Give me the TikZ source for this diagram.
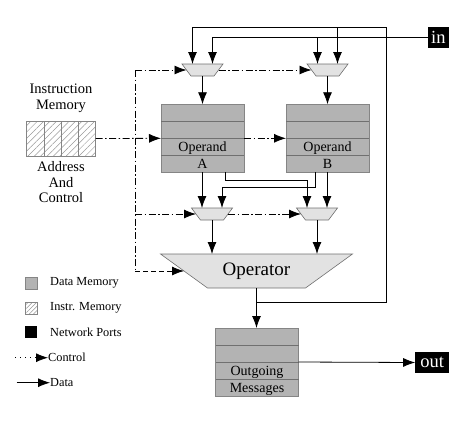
\documentclass[tikz,border=0pt]{standalone}
\usepackage{fontspec}
\setmainfont{Liberation Serif}
\usetikzlibrary{arrows.meta,patterns.meta,calc,backgrounds}
\definecolor{memgray}{HTML}{B3B3B3}
\definecolor{memborder}{HTML}{858585}
\definecolor{rowline}{HTML}{707070}
\definecolor{muxfill}{HTML}{E2E2E2}
\definecolor{muxborder}{HTML}{707070}
\definecolor{hatchc}{HTML}{999999}
\begin{document}
\begin{tikzpicture}[x=1pt,y=-1pt,
  tip/.style={-{Latex[length=12pt,width=9pt]}},
  data/.style={line width=0.8pt,tip},
  ctrl/.style={line width=0.8pt,dash pattern=on 7pt off 2.5pt on 1.5pt off 2.5pt},
  ctrlarr/.style={ctrl,tip},
  dasharr/.style={line width=0.8pt,dash pattern=on 5pt off 3pt,tip},
  mem/.style={draw=memborder,fill=memgray,line width=0.6pt,minimum width=83pt,minimum height=68pt,inner sep=0pt,outer sep=0pt},
  imem/.style={draw=memborder,line width=0.6pt,pattern={Lines[angle=45,distance=4.5pt,line width=0.5pt]},pattern color=hatchc,minimum width=69pt,minimum height=35pt,inner sep=0pt,outer sep=0pt},
  muxbox/.style={minimum width=41pt,minimum height=12pt,inner sep=0pt,outer sep=0pt},
  operbox/.style={minimum width=192pt,minimum height=34pt,inner sep=0pt,outer sep=0pt,font=\fontsize{19}{21}\selectfont},
  trap/.style={draw=muxborder,fill=muxfill,line width=0.6pt,line join=miter},
  port/.style={fill=black,text=white,inner sep=0pt,outer sep=0pt,font=\fontsize{18.5}{19}\selectfont},
  lbl/.style={inner sep=0pt,font=\fontsize{14}{16}\selectfont,text height=9.3pt,text depth=0pt},
  imlbl/.style={inner sep=0pt,font=\fontsize{14.5}{15.5}\selectfont,align=center},
  lgtext/.style={inner sep=0pt,anchor=west,font=\fontsize{12.3}{13}\selectfont},
  sq/.style={minimum width=12pt,minimum height=12pt,inner sep=0pt,outer sep=0pt}
]
\useasboundingbox (0,0) rectangle (474,445);

% memory boxes
\node[mem] (A) at (202.5,138.3) {};
\node[mem] (B) at (327.5,138.3) {};
\node[mem] (ob) at (257,362) {};
\foreach \n in {A,B,ob}{
  \foreach \f in {0.25,0.5,0.75}
    \draw[rowline,line width=0.6pt] ($(\n.north west)!\f!(\n.south west)$) -- ($(\n.north east)!\f!(\n.south east)$);
}
\node[lbl] (Aop) at ($(A.north)!0.625!(A.south)$) {Operand};
\node[lbl] (Alt) at ($(A.north)!0.875!(A.south)$) {A};
\node[lbl] (Bop) at ($(B.north)!0.625!(B.south)$) {Operand};
\node[lbl] (Blt) at ($(B.north)!0.875!(B.south)$) {B};
\node[lbl] (obo) at ($(ob.north)!0.625!(ob.south)$) {Outgoing};
\node[lbl] (obm) at ($(ob.north)!0.875!(ob.south)$) {Messages};

% instruction memory
\node[imem] (im) at (61.2,138.5) {};
\foreach \f in {0.25,0.5,0.75}
  \draw[memborder,line width=0.6pt] ($(im.north west)!\f!(im.north east)$) -- ($(im.south west)!\f!(im.south east)$);
\node[imlbl] (imt) at (61,98.3) {Instruction\\Memory};
\node[imlbl] (imc) at (61,182.5) {Address\\And\\Control};

% muxes and operator (frames), trapezoids drawn on background
\node[muxbox] (m1) at (202.5,70) {};
\node[muxbox] (m2) at (327.5,70) {};
\node[muxbox] (m3) at (212,214) {};
\node[muxbox] (m4) at (317,214) {};
\node[operbox] (op) at (256.5,271) {Operator};
\begin{scope}[on background layer]
  \foreach \n in {m1,m2,m3,m4}
    \draw[trap] (\n.north west) -- (\n.north east) -- ([xshift=-9pt]\n.south east) -- ([xshift=9pt]\n.south west) -- cycle;
  \draw[trap] (op.north west) -- (op.north east) -- ([xshift=-47pt]op.south east) -- ([xshift=47pt]op.south west) -- cycle;
\end{scope}

% ports
\node[port,minimum width=21pt,minimum height=21pt] (in) at (438.3,37.5) {in};
\node[port,minimum width=34pt,minimum height=21.6pt] (out) at (432.2,362.5) {out};

% data connections
\coordinate (loopB) at (386.7,302);
\coordinate (loopR) at (386.7,27);
\draw[data] (op.south) |- (loopB) -- (loopR) -| ([xshift=-10pt]m1.north);
\draw[data] ([xshift=10pt]m2.north |- loopR) -- ([xshift=10pt]m2.north);
\draw[data] (in.west) -| ([xshift=10pt]m1.north);
\draw[data] ([xshift=-10pt]m2.north |- in.west) -- ([xshift=-10pt]m2.north);
\draw[data] (m1.south) -- (A.north);
\draw[data] (m2.south) -- (B.north);
\draw[data] ([xshift=-10pt]m3.north |- A.south) -- ([xshift=-10pt]m3.north);
\draw[data] ([xshift=22.5pt]A.south) -- ++(0,8) -| ([xshift=-10pt]m4.north);
\draw[data] ([xshift=-12.5pt]B.south) -- ++(0,15.5) -| ([xshift=10pt]m3.north);
\draw[data] ([xshift=10pt]m4.north |- B.south) -- ([xshift=10pt]m4.north);
\draw[data] (m3.south) -- (m3.south |- op.north);
\draw[data] (m4.south) -- (m4.south |- op.north);
\draw[data] (op.south) -- (op.south |- ob.north);
\draw[data] (ob.east) -- (out.west);

% control connections
\coordinate (cx) at (135,0);
\draw[ctrl] (cx |- m1.west) -- (cx |- op.west);
\draw[ctrlarr] (cx |- m1.west) -- ([xshift=4.5pt]m1.west);
\draw[ctrlarr] ([xshift=-4.5pt]m1.east) -- ([xshift=4.5pt]m2.west);
\draw[ctrlarr] (im.east) -- (A.west);
\draw[ctrlarr] (A.east) -- (B.west);
\draw[ctrlarr] (cx |- m3.west) -- ([xshift=4.5pt]m3.west);
\draw[ctrlarr] ([xshift=-4.5pt]m3.east) -- ([xshift=4.5pt]m4.west);
\draw[dasharr] (cx |- op.west) -- ([xshift=23.5pt]op.west);

% legend
\node[sq,fill=memgray,draw=memborder,line width=0.4pt] (lg1) at (31,283) {};
\node[lgtext] (lt1) at (50,283) {Data Memory};
\node[sq,draw=memborder,line width=0.4pt,pattern={Lines[angle=45,distance=3pt,line width=0.5pt]},pattern color=hatchc] (lg2) at (31,308) {};
\node[lgtext] (lt2) at (50,308) {Instr. Memory};
\node[sq,fill=black] (lg3) at (31,332) {};
\node[lgtext] (lt3) at (50,332) {Network Ports};
\coordinate (lc1) at (15,357.7);
\node[lgtext] (lt4) at (48,357.7) {Control};
\draw[line width=0.8pt,dash pattern=on 1pt off 4pt,tip] (lc1) -- (lt4.west);
\coordinate (ld1) at (16.7,382.7);
\node[lgtext] (lt5) at (50,382.7) {Data};
\draw[data] (ld1) -- (lt5.west);
\end{tikzpicture}
\end{document}
